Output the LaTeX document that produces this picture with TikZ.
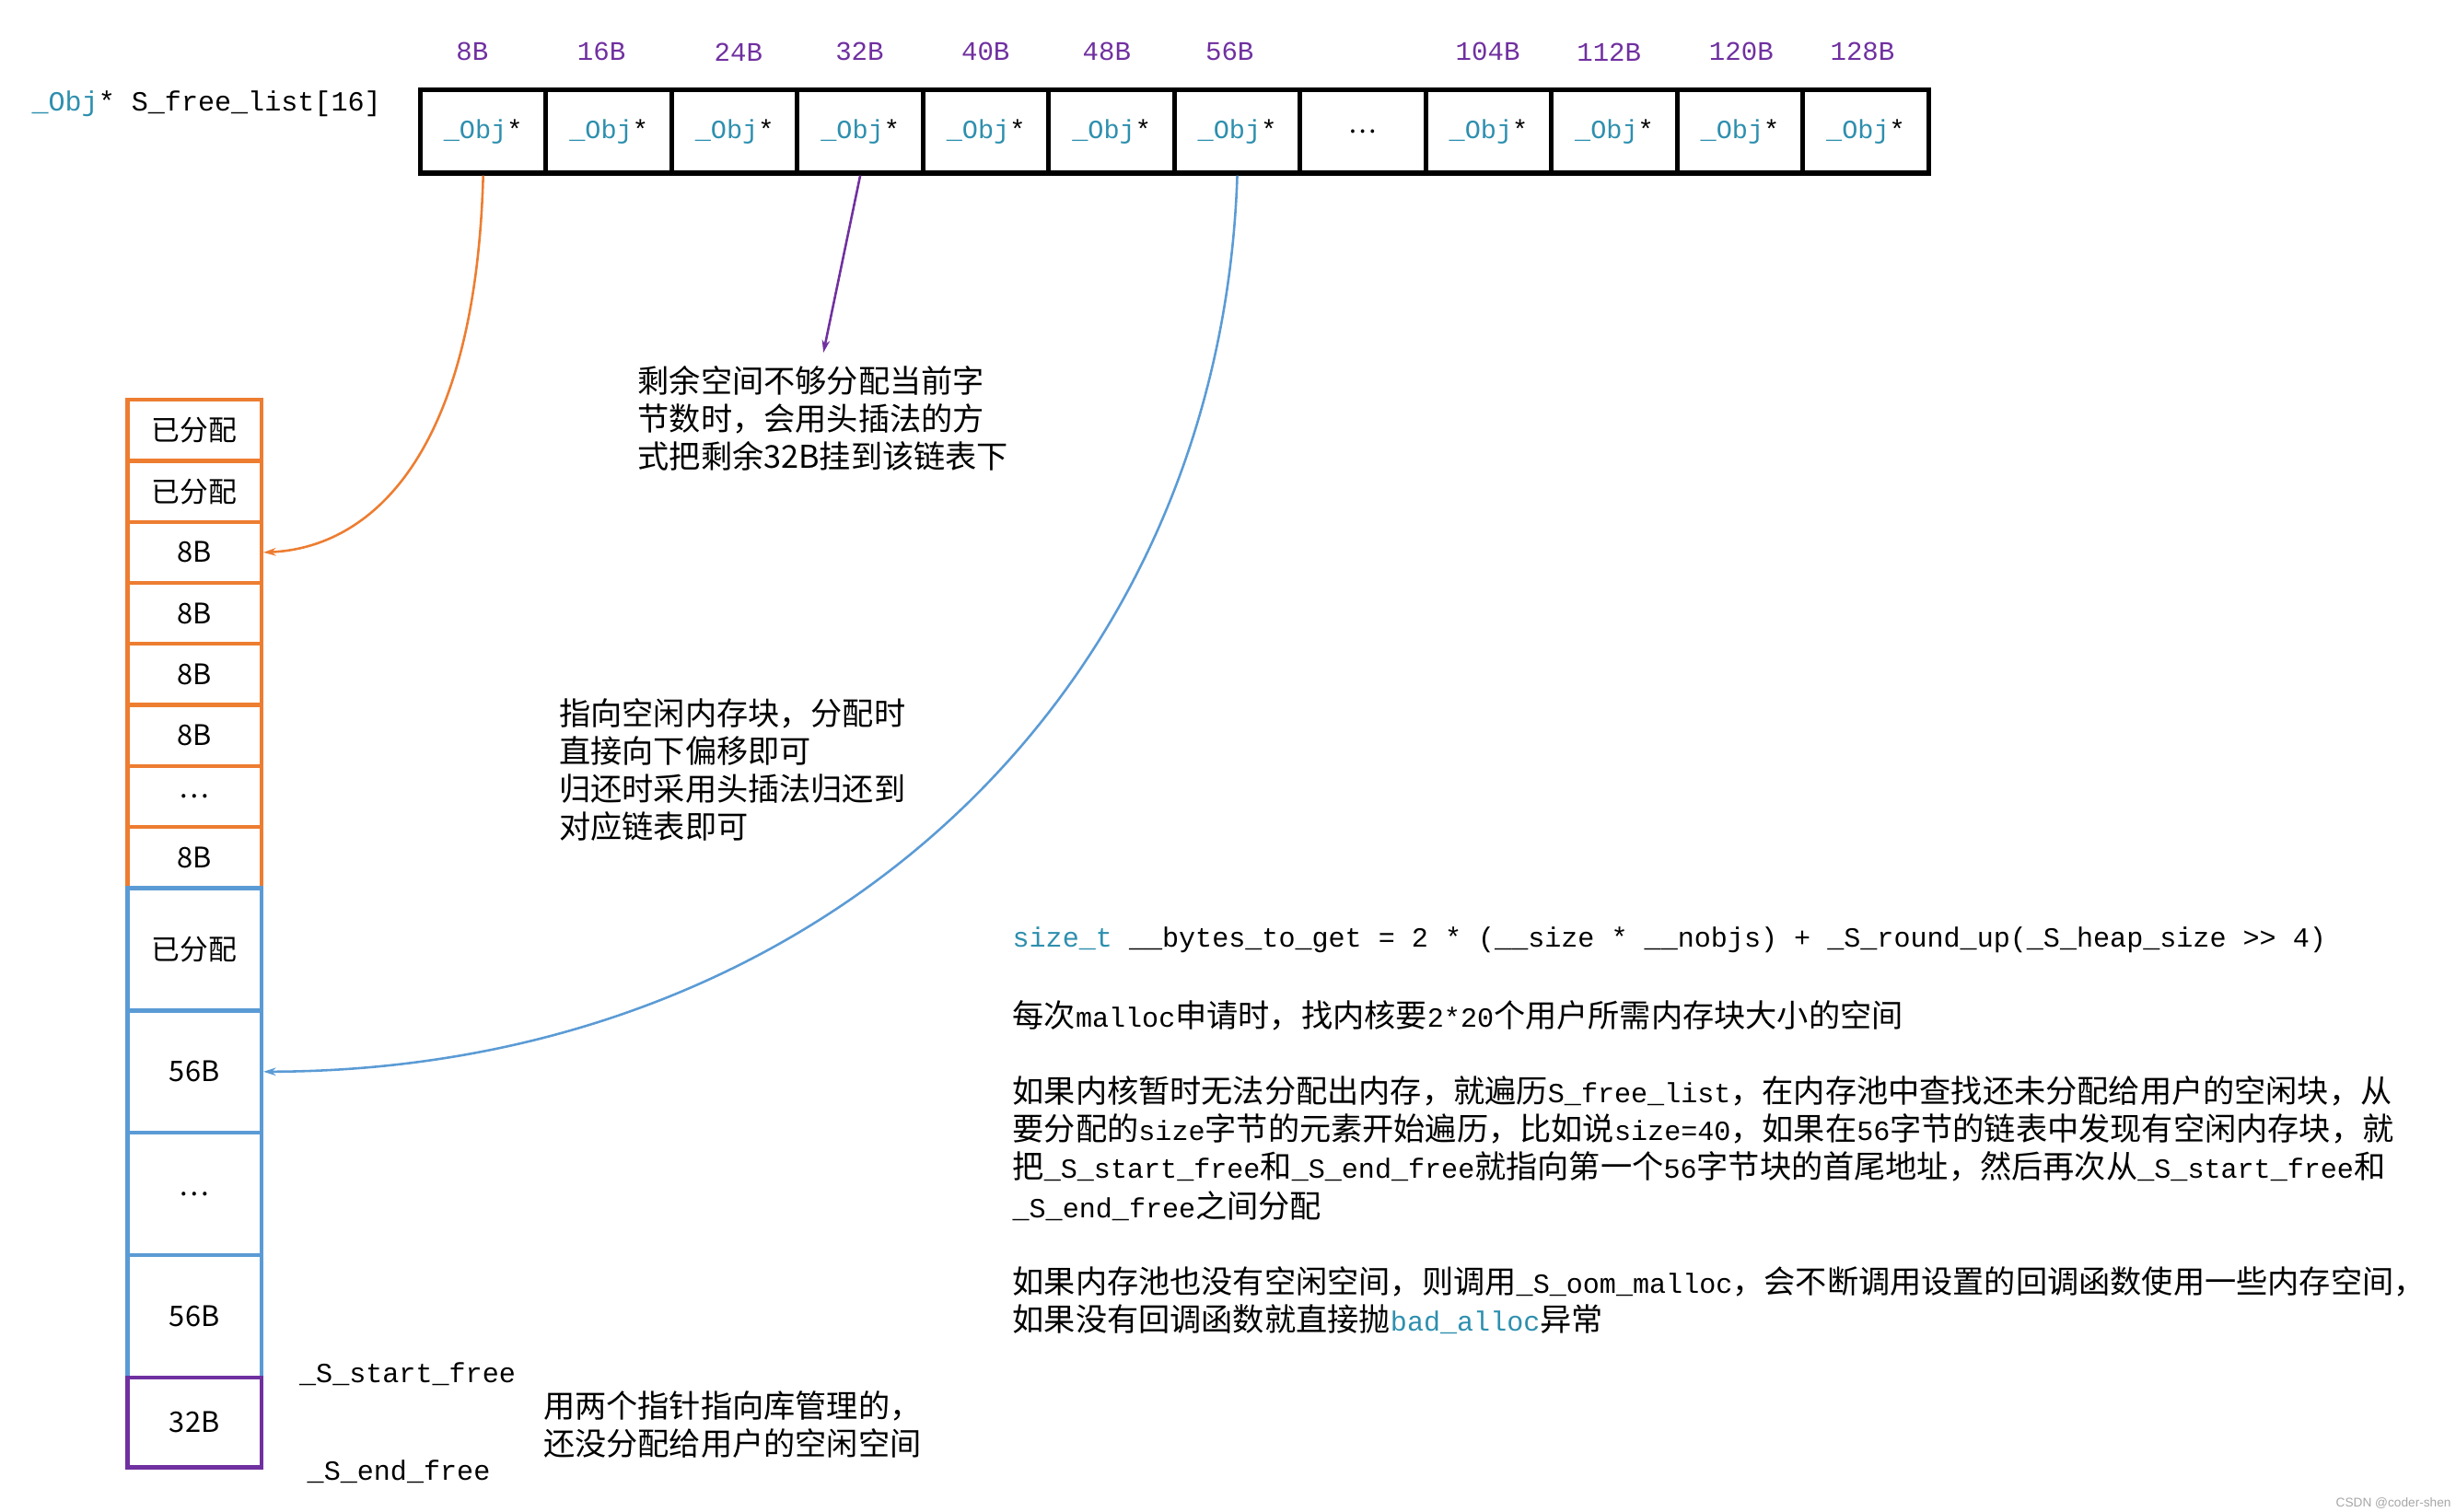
\documentclass[tikz,border=0pt]{standalone}
\usepackage{fontspec}
\setmainfont{Liberation Mono}
\newfontfamily\cjk{Noto Sans CJK SC}
\newfontfamily\mono{Liberation Mono}
\newfontfamily\lsans{Liberation Sans}
\usetikzlibrary{arrows.meta}
\definecolor{cor}{HTML}{ED7D31}
\definecolor{cbl}{HTML}{5B9BD5}
\definecolor{cpu}{HTML}{7030A0}
\definecolor{cte}{HTML}{2E8FAE}
\newcommand{\C}[1]{{\cjk\fontsize{20}{24}\selectfont #1}}
\newcommand{\Ob}{\textcolor{cte}{\_Obj}*}
\tikzset{
  arr/.style={draw=black,line width=3pt,minimum width=79.83pt,minimum height=53pt,inner sep=0pt,font=\mono\fontsize{16.7}{20}\selectfont},
  hdr/.style={text=cpu,font=\mono\fontsize{17}{20}\selectfont},
  cell/.style={line width=2.5pt,minimum width=85pt,inner sep=0pt,font=\cjk\fontsize{18}{22}\selectfont},
  note/.style={anchor=west,align=left,inner sep=0pt,font=\cjk\fontsize{20}{24}\selectfont},
  code/.style={anchor=west,inner sep=0pt,font=\mono\fontsize{17.6}{24}\selectfont},
  tip/.style={-{Stealth[length=8pt,width=5pt]},line width=1.5pt}
}
\begin{document}
\begin{tikzpicture}[x=1pt,y=-1pt]
\useasboundingbox (0,0) rectangle (1560,960);
% array
\foreach \i/\t in {0/\Ob,1/\Ob,2/\Ob,3/\Ob,4/\Ob,5/\Ob,6/\Ob,7/{\cjk …},8/\Ob,9/\Ob,10/\Ob,11/\Ob}
  \node[arr] (a\i) at (267+79.83*\i+39.9,83.5) {\t};
\foreach \i/\t/\x in {0/8B/300,1/16B/382,2/24B/469,3/32B/546,4/40B/626,5/48B/703,6/56B/781,8/104B/945,9/112B/1022,10/120B/1106,11/128B/1183}
  \node[hdr] (h\i) at (\x,33) {\t};
\node[anchor=west,inner sep=0pt,font=\mono\fontsize{17.6}{20}\selectfont] (lbl) at (20,66) {\textcolor{cte}{\_Obj}* S\_free\_list[16]};
% left column
\foreach \i/\t in {0/已分配,1/已分配,2/8B,3/8B,4/8B,5/8B,6/…,7/8B}
  \node[cell,draw=cor,minimum height=38.75pt] (o\i) at (123.5,273.4+38.75*\i) {\t};
\foreach \i/\t in {0/已分配,1/56B,2/…,3/56B}
  \node[cell,draw=cbl,minimum height=77.75pt] (b\i) at (123.5,603+77.75*\i) {\t};
\node[cell,draw=cpu,minimum height=57pt] (p0) at (123.5,903.5) {32B};
% arrows
\coordinate (t1) at (523,224);
\draw[tip,cor] (a0.south) .. controls (302,290) and (235,348) .. (o2.east);
\draw[tip,cpu] (a3.south) -- (t1);
\draw[tip,cbl] (a6.south) .. controls (775,440) and (520,680) .. (b1.east);
% notes
\node[note] (n1) at (405,266) {剩余空间不够分配当前字\\节数时，会用头插法的方\\式把剩余32B挂到该链表下};
\node[note] (n2) at (355,489) {指向空闲内存块，分配时\\直接向下偏移即可\\归还时采用头插法归还到\\对应链表即可};
\node[code] (s1) at (190,873) {\_S\_start\_free};
\node[code] (s2) at (195,935) {\_S\_end\_free};
\node[note] (n3) at (345,905) {用两个指针指向库管理的，\\还没分配给用户的空闲空间};
% right text
\node[code] (r1) at (643,597) {\textcolor{cte}{size\_t} \_\_bytes\_to\_get = 2 * (\_\_size * \_\_nobjs) + \_S\_round\_up(\_S\_heap\_size >> 4)};
\node[code] (r2) at (643,645) {\C{每次}malloc\C{申请时，找内核要}2*20\C{个用户所需内存块大小的空间}};
\node[code] (r3) at (643,693) {\C{如果内核暂时无法分配出内存，就遍历}S\_free\_list\C{，在内存池中查找还未分配给用户的空闲块，从}};
\node[code] (r4) at (643,717) {\C{要分配的}size\C{字节的元素开始遍历，比如说}size=40\C{，如果在}56\C{字节的链表中发现有空闲内存块，就}};
\node[code] (r5) at (643,741) {\C{把}\_S\_start\_free\C{和}\_S\_end\_free\C{就指向第一个}56\C{字节块的首尾地址，然后再次从}\_S\_start\_free\C{和}};
\node[code] (r6) at (643,766) {\_S\_end\_free\C{之间分配}};
\node[code] (r7) at (643,814) {\C{如果内存池也没有空闲空间，则调用}\_S\_oom\_malloc\C{，会不断调用设置的回调函数使用一些内存空间，}};
\node[code] (r8) at (643,838) {\C{如果没有回调函数就直接抛}\textcolor{cte}{bad\_alloc}\C{异常}};
\node[anchor=east,inner sep=0pt,text=gray!70,font=\lsans\fontsize{8}{10}\selectfont] (wm) at (1557,955) {CSDN @coder-shen};
\end{tikzpicture}
\end{document}
